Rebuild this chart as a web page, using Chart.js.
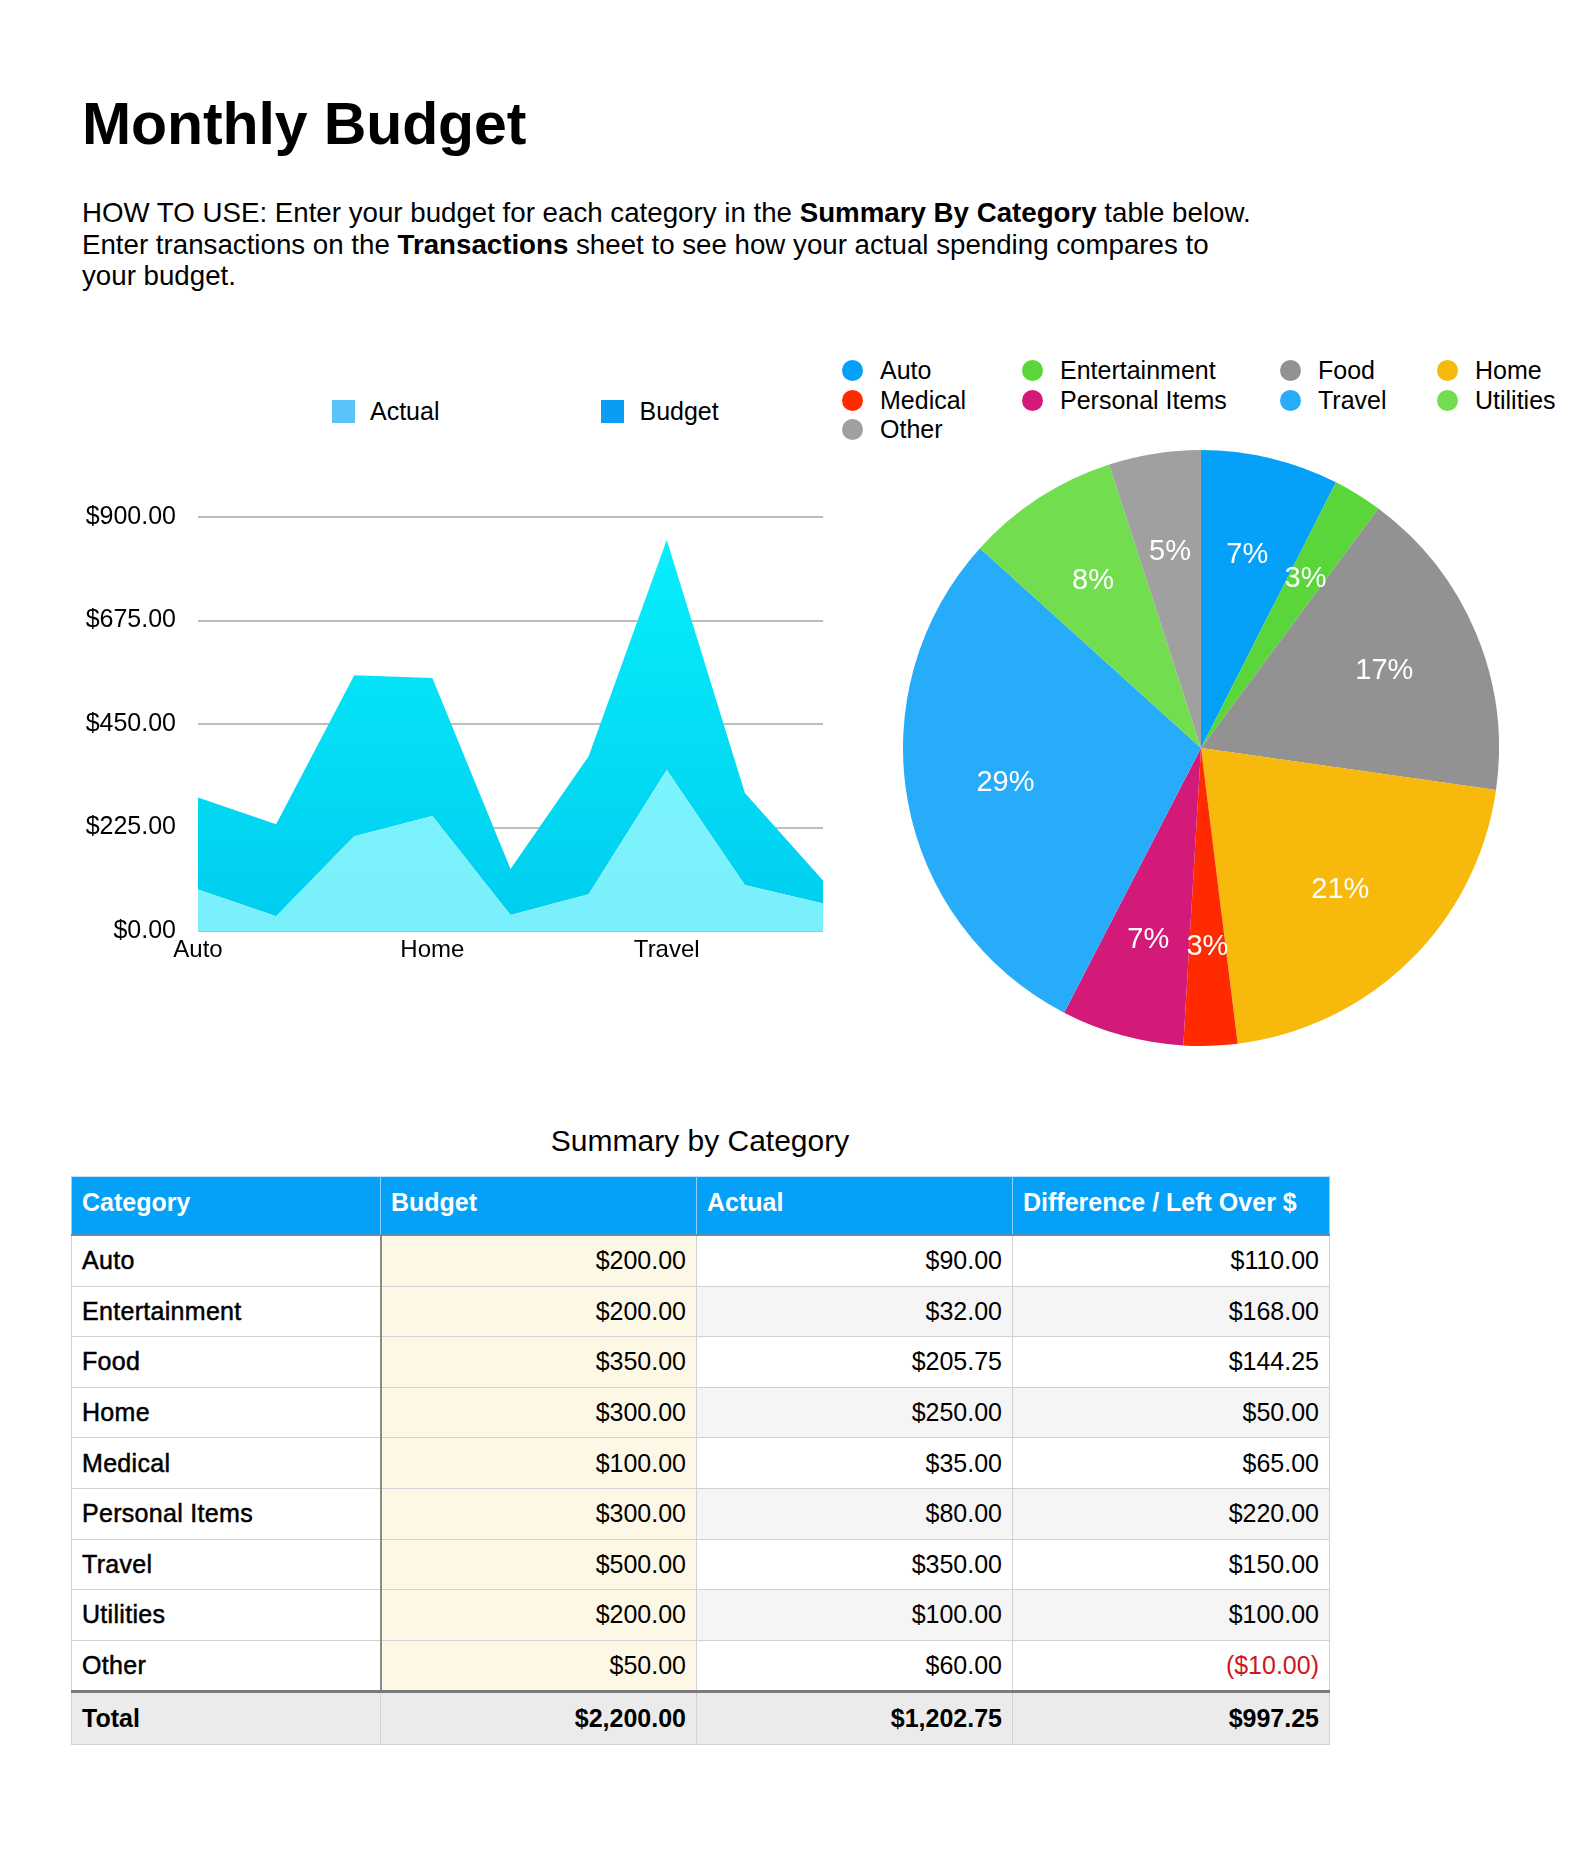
<!DOCTYPE html>
<html>
<head>
<meta charset="utf-8">
<title>Monthly Budget</title>
<script src="https://cdn.jsdelivr.net/npm/chart.js@4.4.1/dist/chart.umd.min.js"></script>
<style>
  body {
    margin: 0;
    width: 1589px;
    height: 1862px;
    position: relative;
    overflow: hidden;
    background: #fff;
    color: #000;
    font-family: "Liberation Sans", Helvetica, Arial, sans-serif;
  }
  h1 {
    position: absolute;
    left: 82px;
    top: 95px;
    margin: 0;
    font-size: 59px;
    line-height: 59px;
    font-weight: bold;
    letter-spacing: -0.1px;
  }
  .intro {
    position: absolute;
    left: 82px;
    top: 197px;
    margin: 0;
    font-size: 27.7px;
    line-height: 31.5px;
  }
  #areaWrap { position: absolute; left: 0; top: 480px; width: 850px; height: 490px; }
  #pieWrap { position: absolute; left: 903px; top: 450px; width: 596px; height: 596px; }

  #areaLegend {
    position: absolute; left: 332px; top: 399px;
    display: flex; gap: 162px; font-size: 25px; line-height: 24px;
  }
  #areaLegend .item { display: flex; align-items: center; }
  #areaLegend .box { width: 23px; height: 23px; margin-right: 15px; }

  #pieLegend {
    position: absolute; left: 842px; top: 356px;
    display: grid; grid-template-columns: 180px 258px 157px auto;
    grid-auto-rows: 29.5px; font-size: 25px;
  }
  #pieLegend .item { display: flex; align-items: center; white-space: nowrap; }
  #pieLegend .dot { width: 21px; height: 21px; border-radius: 50%; margin-right: 17px; }

  .caption {
    position: absolute; left: 71px; top: 1124px; width: 1258px;
    text-align: center; font-size: 30px; line-height: 34px;
  }
  #summary {
    position: absolute; left: 71px; top: 1176px; width: 1258px;
    border-collapse: collapse; table-layout: fixed; font-size: 25px;
  }
  #summary th {
    background: #05A0F8; color: #fff; font-weight: bold; text-align: left;
    height: 50px; padding: 0 10px 7px 10px;
    border-left: 1px solid #8fd2fb; border-right: 1px solid #8fd2fb;
    border-bottom: 2px solid #5f8fae; border-top: 1px solid #bfe3fa;
  }
  #summary td {
    height: 49.6px; padding: 0 10px; border: 1px solid #d2d2d2; text-align: right;
  }
  #summary td.cat {
    text-align: left; background: #fff; -webkit-text-stroke: 0.5px #000;
    letter-spacing: 0.3px; border-right: 2px solid #8a8a8a;
  }
  #summary td.bud { background: #FDF8E6; }
  #summary tr.alt td.act, #summary tr.alt td.dif { background: #F5F5F5; }
  #summary td.neg { color: #D0161B; }
  #summary tr.total td {
    background: #EBEBEB; font-weight: bold; height: 51px;
    border-top: 3px solid #7a7a7a; -webkit-text-stroke: 0; letter-spacing: 0;
    border-right-color: #d2d2d2; border-right-width: 1px;
  }
</style>
</head>
<body>
<h1>Monthly Budget</h1>
<p class="intro">HOW TO USE: Enter your budget for each category in the <b>Summary By Category</b> table below.<br>Enter transactions on the <b>Transactions</b> sheet to see how your actual spending compares to<br>your budget.</p>

<div id="areaLegend"></div>
<div id="areaWrap"><canvas id="areaChart"></canvas></div>

<div id="pieLegend"></div>
<div id="pieWrap"><canvas id="pieChart"></canvas></div>

<div class="caption">Summary by Category</div>
<table id="summary"></table>

<script>
  const categories = ["Auto", "Entertainment", "Food", "Home", "Medical", "Personal Items", "Travel", "Utilities", "Other"];
  const budget = [200, 200, 350, 300, 100, 300, 500, 200, 50];
  const actual = [90, 32, 205.75, 250, 35, 80, 350, 100, 60];
  const yTicks = [0, 225, 450, 675, 900];
  const tableHeaders = ["Category", "Budget", "Actual", "Difference / Left Over $"];

  const pieColors = ["#05A0F8", "#5AD63A", "#929292", "#F7B90B", "#FF2A00", "#D31A78", "#27ACFA", "#73DD50", "#A0A0A0"];
  const areaSwatches = ["#5AC3FA", "#0A9DF5"];
  const font = '"Liberation Sans", Helvetica, Arial, sans-serif';

  Chart.defaults.font.family = font;
  Chart.defaults.color = "#000";

  function money(v) {
    const s = "$" + Math.abs(v).toLocaleString("en-US", { minimumFractionDigits: 2, maximumFractionDigits: 2 });
    return v < 0 ? "(" + s + ")" : s;
  }

  function gradient(chart, top, bottom) {
    const area = chart.chartArea;
    if (!area) return top;
    const g = chart.ctx.createLinearGradient(0, area.top, 0, area.bottom);
    g.addColorStop(0, top);
    g.addColorStop(1, bottom);
    return g;
  }

  // area chart (stacked: actual under budget)
  const areaChart = new Chart(document.getElementById("areaChart"), {
    type: "line",
    data: {
      labels: categories,
      datasets: [
        {
          label: "Actual",
          data: actual,
          fill: "origin",
          backgroundColor: (c) => gradient(c.chart, "#82FDFF", "#79EFFB"),
          borderWidth: 0,
          pointRadius: 0,
          tension: 0,
        },
        {
          label: "Budget",
          data: budget,
          fill: "-1",
          backgroundColor: (c) => gradient(c.chart, "#07F0FC", "#00CDEF"),
          borderWidth: 0,
          pointRadius: 0,
          tension: 0,
        },
      ],
    },
    options: {
      responsive: true,
      maintainAspectRatio: false,
      animation: false,
      layout: { padding: { top: 0, right: 27, left: 0, bottom: 0 } },
      scales: {
        x: {
          offset: false,
          grid: { display: false },
          border: { display: false },
          ticks: {
            autoSkip: false,
            maxRotation: 0,
            padding: -3,
            font: { size: 24 },
            callback: (v, i) => (i % 3 === 0 ? categories[i] : ""),
          },
          afterFit: (scale) => { scale.height = 39; },
        },
        y: {
          stacked: true,
          min: 0,
          max: 900,
          afterBuildTicks: (scale) => { scale.ticks = yTicks.map((v) => ({ value: v })); },
          grid: { color: "#BDBDBD", lineWidth: 2, drawTicks: false },
          border: { display: false },
          ticks: { padding: 22, font: { size: 25 }, callback: (v) => money(v) },
          afterFit: (scale) => { scale.width = 198; },
        },
      },
      plugins: { legend: { display: false }, tooltip: { enabled: false } },
    },
  });

  const areaLegend = document.getElementById("areaLegend");
  areaChart.data.datasets.forEach((ds, i) => {
    const item = document.createElement("div");
    item.className = "item";
    item.innerHTML = `<span class="box" style="background:${areaSwatches[i]}"></span><span>${ds.label}</span>`;
    areaLegend.appendChild(item);
  });

  // percent labels inside the pie
  const pctLabels = {
    id: "pctLabels",
    afterDatasetsDraw(chart) {
      const ctx = chart.ctx;
      const data = chart.data.datasets[0].data;
      const total = data.reduce((a, b) => a + b, 0);
      ctx.save();
      ctx.fillStyle = "#fff";
      ctx.font = "29px " + font;
      ctx.textAlign = "center";
      ctx.textBaseline = "middle";
      chart.getDatasetMeta(0).data.forEach((arc, i) => {
        const p = arc.getProps(["x", "y", "startAngle", "endAngle", "outerRadius"], true);
        const mid = (p.startAngle + p.endAngle) / 2;
        const r = p.outerRadius * 0.667;
        ctx.fillText(Math.round((data[i] / total) * 100) + "%", p.x + Math.cos(mid) * r, p.y + Math.sin(mid) * r);
      });
      ctx.restore();
    },
  };

  const pieChart = new Chart(document.getElementById("pieChart"), {
    type: "pie",
    data: {
      labels: categories,
      datasets: [{ data: actual, backgroundColor: pieColors, borderWidth: 0 }],
    },
    options: {
      responsive: true,
      maintainAspectRatio: false,
      animation: false,
      plugins: { legend: { display: false }, tooltip: { enabled: false } },
    },
    plugins: [pctLabels],
  });

  const pieLegend = document.getElementById("pieLegend");
  pieChart.options.plugins.legend.labels.generateLabels(pieChart).forEach((li) => {
    const item = document.createElement("div");
    item.className = "item";
    item.innerHTML = `<span class="dot" style="background:${li.fillStyle}"></span><span>${li.text}</span>`;
    pieLegend.appendChild(item);
  });

  // summary table
  const table = document.getElementById("summary");
  let html = "<colgroup><col style='width:309px'><col style='width:316px'><col style='width:316px'><col style='width:317px'></colgroup>";
  html += "<tr>" + tableHeaders.map((h) => `<th>${h}</th>`).join("") + "</tr>";
  let totB = 0, totA = 0;
  categories.forEach((cat, i) => {
    const diff = budget[i] - actual[i];
    totB += budget[i];
    totA += actual[i];
    html += `<tr class="${i % 2 ? "alt" : ""}"><td class="cat">${cat}</td><td class="bud">${money(budget[i])}</td>` +
      `<td class="act">${money(actual[i])}</td><td class="dif${diff < 0 ? " neg" : ""}">${money(diff)}</td></tr>`;
  });
  html += `<tr class="total"><td class="cat" style="text-align:left">Total</td><td>${money(totB)}</td><td>${money(totA)}</td><td>${money(totB - totA)}</td></tr>`;
  table.innerHTML = html;
</script>
</body>
</html>
